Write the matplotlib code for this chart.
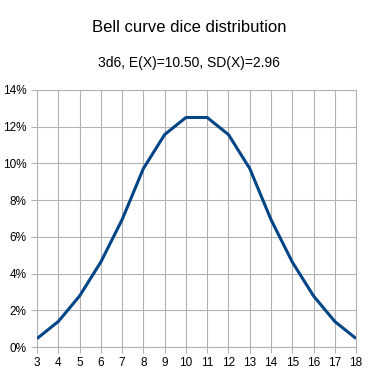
import matplotlib
matplotlib.use("Agg")
import matplotlib.pyplot as plt
from matplotlib.ticker import FuncFormatter

# sum of 3d6 and its probability in percent
totals = [3, 4, 5, 6, 7, 8, 9, 10, 11, 12, 13, 14, 15, 16, 17, 18]
percent = [0.46, 1.39, 2.78, 4.63, 6.94, 9.72, 11.57, 12.50,
           12.50, 11.57, 9.72, 6.94, 4.63, 2.78, 1.39, 0.46]

plt.rcParams["font.family"] = ["Liberation Sans", "DejaVu Sans"]

fig = plt.figure(figsize=(3.78, 3.78), dpi=100)
ax = fig.add_axes([0.098, 0.082, 0.844, 0.68])

ax.plot(totals, percent, color="#004586", lw=2.2, solid_joinstyle="round",
        solid_capstyle="butt", zorder=3)

ax.set_xlim(3, 18)
ax.set_ylim(0, 14)
ax.set_xticks(totals)
ax.set_yticks(range(0, 15, 2))
ax.yaxis.set_major_formatter(FuncFormatter(lambda v, _: f"{v:.0f}%"))
ax.grid(color="#b3b3b3", lw=0.8)
for s in ax.spines.values():
    s.set_color("#b3b3b3")
    s.set_linewidth(0.8)
ax.tick_params(colors="#b3b3b3", labelcolor="black", labelsize=8.5,
               length=4, width=0.8)

fig.text(0.5, 0.928, "Bell curve dice distribution", ha="center",
         va="center", fontsize=12)
fig.text(0.5, 0.833, "3d6, E(X)=10.50, SD(X)=2.96", ha="center",
         va="center", fontsize=10)

fig.savefig("out.png", dpi=100)
